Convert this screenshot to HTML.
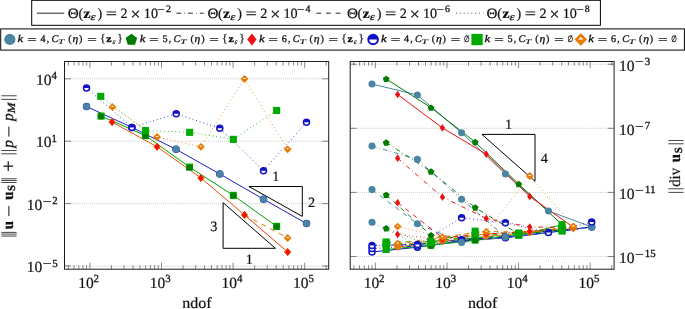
<!DOCTYPE html>
<html><head><meta charset="utf-8"><title>plot</title><style>html,body{margin:0;padding:0;background:#fff}svg{display:block}</style></head><body>
<svg width="685" height="309" viewBox="0 0 685 309" text-rendering="geometricPrecision">
<rect width="685" height="309" fill="#fff"/>
<line x1="64.5" y1="78.8" x2="328.7" y2="78.8" stroke="#a0a0a0" stroke-width="0.7" stroke-dasharray="0.75 1.22"/>
<line x1="64.5" y1="141.2" x2="328.7" y2="141.2" stroke="#a0a0a0" stroke-width="0.7" stroke-dasharray="0.75 1.22"/>
<line x1="64.5" y1="203.6" x2="328.7" y2="203.6" stroke="#a0a0a0" stroke-width="0.7" stroke-dasharray="0.75 1.22"/>
<line x1="64.5" y1="266.0" x2="328.7" y2="266.0" stroke="#a0a0a0" stroke-width="0.7" stroke-dasharray="0.75 1.22"/>
<line x1="64.5" y1="78.8" x2="71.0" y2="78.8" stroke="#6e6e6e" stroke-width="0.85"/>
<line x1="328.7" y1="78.8" x2="322.2" y2="78.8" stroke="#6e6e6e" stroke-width="0.85"/>
<line x1="64.5" y1="141.2" x2="71.0" y2="141.2" stroke="#6e6e6e" stroke-width="0.85"/>
<line x1="328.7" y1="141.2" x2="322.2" y2="141.2" stroke="#6e6e6e" stroke-width="0.85"/>
<line x1="64.5" y1="203.6" x2="71.0" y2="203.6" stroke="#6e6e6e" stroke-width="0.85"/>
<line x1="328.7" y1="203.6" x2="322.2" y2="203.6" stroke="#6e6e6e" stroke-width="0.85"/>
<line x1="64.5" y1="266.0" x2="71.0" y2="266.0" stroke="#6e6e6e" stroke-width="0.85"/>
<line x1="328.7" y1="266.0" x2="322.2" y2="266.0" stroke="#6e6e6e" stroke-width="0.85"/>
<line x1="68.35" y1="269.2" x2="68.35" y2="265.09999999999997" stroke="#5a5a5a" stroke-width="0.7"/>
<line x1="68.35" y1="61.5" x2="68.35" y2="65.6" stroke="#5a5a5a" stroke-width="0.7"/>
<line x1="74.02" y1="269.2" x2="74.02" y2="265.09999999999997" stroke="#5a5a5a" stroke-width="0.7"/>
<line x1="74.02" y1="61.5" x2="74.02" y2="65.6" stroke="#5a5a5a" stroke-width="0.7"/>
<line x1="78.81" y1="269.2" x2="78.81" y2="265.09999999999997" stroke="#5a5a5a" stroke-width="0.7"/>
<line x1="78.81" y1="61.5" x2="78.81" y2="65.6" stroke="#5a5a5a" stroke-width="0.7"/>
<line x1="82.96" y1="269.2" x2="82.96" y2="265.09999999999997" stroke="#5a5a5a" stroke-width="0.7"/>
<line x1="82.96" y1="61.5" x2="82.96" y2="65.6" stroke="#5a5a5a" stroke-width="0.7"/>
<line x1="86.62" y1="269.2" x2="86.62" y2="265.09999999999997" stroke="#5a5a5a" stroke-width="0.7"/>
<line x1="86.62" y1="61.5" x2="86.62" y2="65.6" stroke="#5a5a5a" stroke-width="0.7"/>
<line x1="89.90" y1="269.2" x2="89.90" y2="262.59999999999997" stroke="#5a5a5a" stroke-width="0.7"/>
<line x1="89.90" y1="61.5" x2="89.90" y2="68.1" stroke="#5a5a5a" stroke-width="0.7"/>
<line x1="111.45" y1="269.2" x2="111.45" y2="265.09999999999997" stroke="#5a5a5a" stroke-width="0.7"/>
<line x1="111.45" y1="61.5" x2="111.45" y2="65.6" stroke="#5a5a5a" stroke-width="0.7"/>
<line x1="124.06" y1="269.2" x2="124.06" y2="265.09999999999997" stroke="#5a5a5a" stroke-width="0.7"/>
<line x1="124.06" y1="61.5" x2="124.06" y2="65.6" stroke="#5a5a5a" stroke-width="0.7"/>
<line x1="133.01" y1="269.2" x2="133.01" y2="265.09999999999997" stroke="#5a5a5a" stroke-width="0.7"/>
<line x1="133.01" y1="61.5" x2="133.01" y2="65.6" stroke="#5a5a5a" stroke-width="0.7"/>
<line x1="139.95" y1="269.2" x2="139.95" y2="265.09999999999997" stroke="#5a5a5a" stroke-width="0.7"/>
<line x1="139.95" y1="61.5" x2="139.95" y2="65.6" stroke="#5a5a5a" stroke-width="0.7"/>
<line x1="145.62" y1="269.2" x2="145.62" y2="265.09999999999997" stroke="#5a5a5a" stroke-width="0.7"/>
<line x1="145.62" y1="61.5" x2="145.62" y2="65.6" stroke="#5a5a5a" stroke-width="0.7"/>
<line x1="150.41" y1="269.2" x2="150.41" y2="265.09999999999997" stroke="#5a5a5a" stroke-width="0.7"/>
<line x1="150.41" y1="61.5" x2="150.41" y2="65.6" stroke="#5a5a5a" stroke-width="0.7"/>
<line x1="154.56" y1="269.2" x2="154.56" y2="265.09999999999997" stroke="#5a5a5a" stroke-width="0.7"/>
<line x1="154.56" y1="61.5" x2="154.56" y2="65.6" stroke="#5a5a5a" stroke-width="0.7"/>
<line x1="158.22" y1="269.2" x2="158.22" y2="265.09999999999997" stroke="#5a5a5a" stroke-width="0.7"/>
<line x1="158.22" y1="61.5" x2="158.22" y2="65.6" stroke="#5a5a5a" stroke-width="0.7"/>
<line x1="161.50" y1="269.2" x2="161.50" y2="262.59999999999997" stroke="#5a5a5a" stroke-width="0.7"/>
<line x1="161.50" y1="61.5" x2="161.50" y2="68.1" stroke="#5a5a5a" stroke-width="0.7"/>
<line x1="183.05" y1="269.2" x2="183.05" y2="265.09999999999997" stroke="#5a5a5a" stroke-width="0.7"/>
<line x1="183.05" y1="61.5" x2="183.05" y2="65.6" stroke="#5a5a5a" stroke-width="0.7"/>
<line x1="195.66" y1="269.2" x2="195.66" y2="265.09999999999997" stroke="#5a5a5a" stroke-width="0.7"/>
<line x1="195.66" y1="61.5" x2="195.66" y2="65.6" stroke="#5a5a5a" stroke-width="0.7"/>
<line x1="204.61" y1="269.2" x2="204.61" y2="265.09999999999997" stroke="#5a5a5a" stroke-width="0.7"/>
<line x1="204.61" y1="61.5" x2="204.61" y2="65.6" stroke="#5a5a5a" stroke-width="0.7"/>
<line x1="211.55" y1="269.2" x2="211.55" y2="265.09999999999997" stroke="#5a5a5a" stroke-width="0.7"/>
<line x1="211.55" y1="61.5" x2="211.55" y2="65.6" stroke="#5a5a5a" stroke-width="0.7"/>
<line x1="217.22" y1="269.2" x2="217.22" y2="265.09999999999997" stroke="#5a5a5a" stroke-width="0.7"/>
<line x1="217.22" y1="61.5" x2="217.22" y2="65.6" stroke="#5a5a5a" stroke-width="0.7"/>
<line x1="222.01" y1="269.2" x2="222.01" y2="265.09999999999997" stroke="#5a5a5a" stroke-width="0.7"/>
<line x1="222.01" y1="61.5" x2="222.01" y2="65.6" stroke="#5a5a5a" stroke-width="0.7"/>
<line x1="226.16" y1="269.2" x2="226.16" y2="265.09999999999997" stroke="#5a5a5a" stroke-width="0.7"/>
<line x1="226.16" y1="61.5" x2="226.16" y2="65.6" stroke="#5a5a5a" stroke-width="0.7"/>
<line x1="229.82" y1="269.2" x2="229.82" y2="265.09999999999997" stroke="#5a5a5a" stroke-width="0.7"/>
<line x1="229.82" y1="61.5" x2="229.82" y2="65.6" stroke="#5a5a5a" stroke-width="0.7"/>
<line x1="233.10" y1="269.2" x2="233.10" y2="262.59999999999997" stroke="#5a5a5a" stroke-width="0.7"/>
<line x1="233.10" y1="61.5" x2="233.10" y2="68.1" stroke="#5a5a5a" stroke-width="0.7"/>
<line x1="254.65" y1="269.2" x2="254.65" y2="265.09999999999997" stroke="#5a5a5a" stroke-width="0.7"/>
<line x1="254.65" y1="61.5" x2="254.65" y2="65.6" stroke="#5a5a5a" stroke-width="0.7"/>
<line x1="267.26" y1="269.2" x2="267.26" y2="265.09999999999997" stroke="#5a5a5a" stroke-width="0.7"/>
<line x1="267.26" y1="61.5" x2="267.26" y2="65.6" stroke="#5a5a5a" stroke-width="0.7"/>
<line x1="276.21" y1="269.2" x2="276.21" y2="265.09999999999997" stroke="#5a5a5a" stroke-width="0.7"/>
<line x1="276.21" y1="61.5" x2="276.21" y2="65.6" stroke="#5a5a5a" stroke-width="0.7"/>
<line x1="283.15" y1="269.2" x2="283.15" y2="265.09999999999997" stroke="#5a5a5a" stroke-width="0.7"/>
<line x1="283.15" y1="61.5" x2="283.15" y2="65.6" stroke="#5a5a5a" stroke-width="0.7"/>
<line x1="288.82" y1="269.2" x2="288.82" y2="265.09999999999997" stroke="#5a5a5a" stroke-width="0.7"/>
<line x1="288.82" y1="61.5" x2="288.82" y2="65.6" stroke="#5a5a5a" stroke-width="0.7"/>
<line x1="293.61" y1="269.2" x2="293.61" y2="265.09999999999997" stroke="#5a5a5a" stroke-width="0.7"/>
<line x1="293.61" y1="61.5" x2="293.61" y2="65.6" stroke="#5a5a5a" stroke-width="0.7"/>
<line x1="297.76" y1="269.2" x2="297.76" y2="265.09999999999997" stroke="#5a5a5a" stroke-width="0.7"/>
<line x1="297.76" y1="61.5" x2="297.76" y2="65.6" stroke="#5a5a5a" stroke-width="0.7"/>
<line x1="301.42" y1="269.2" x2="301.42" y2="265.09999999999997" stroke="#5a5a5a" stroke-width="0.7"/>
<line x1="301.42" y1="61.5" x2="301.42" y2="65.6" stroke="#5a5a5a" stroke-width="0.7"/>
<line x1="304.70" y1="269.2" x2="304.70" y2="262.59999999999997" stroke="#5a5a5a" stroke-width="0.7"/>
<line x1="304.70" y1="61.5" x2="304.70" y2="68.1" stroke="#5a5a5a" stroke-width="0.7"/>
<line x1="326.25" y1="269.2" x2="326.25" y2="265.09999999999997" stroke="#5a5a5a" stroke-width="0.7"/>
<line x1="326.25" y1="61.5" x2="326.25" y2="65.6" stroke="#5a5a5a" stroke-width="0.7"/>
<line x1="350.2" y1="64.2" x2="614.1" y2="64.2" stroke="#a0a0a0" stroke-width="0.7" stroke-dasharray="0.75 1.22"/>
<line x1="350.2" y1="128.3" x2="614.1" y2="128.3" stroke="#a0a0a0" stroke-width="0.7" stroke-dasharray="0.75 1.22"/>
<line x1="350.2" y1="192.4" x2="614.1" y2="192.4" stroke="#a0a0a0" stroke-width="0.7" stroke-dasharray="0.75 1.22"/>
<line x1="350.2" y1="256.5" x2="614.1" y2="256.5" stroke="#a0a0a0" stroke-width="0.7" stroke-dasharray="0.75 1.22"/>
<line x1="350.2" y1="64.2" x2="356.7" y2="64.2" stroke="#6e6e6e" stroke-width="0.85"/>
<line x1="614.1" y1="64.2" x2="607.6" y2="64.2" stroke="#6e6e6e" stroke-width="0.85"/>
<line x1="350.2" y1="128.3" x2="356.7" y2="128.3" stroke="#6e6e6e" stroke-width="0.85"/>
<line x1="614.1" y1="128.3" x2="607.6" y2="128.3" stroke="#6e6e6e" stroke-width="0.85"/>
<line x1="350.2" y1="192.4" x2="356.7" y2="192.4" stroke="#6e6e6e" stroke-width="0.85"/>
<line x1="614.1" y1="192.4" x2="607.6" y2="192.4" stroke="#6e6e6e" stroke-width="0.85"/>
<line x1="350.2" y1="256.5" x2="356.7" y2="256.5" stroke="#6e6e6e" stroke-width="0.85"/>
<line x1="614.1" y1="256.5" x2="607.6" y2="256.5" stroke="#6e6e6e" stroke-width="0.85"/>
<line x1="353.85" y1="269.2" x2="353.85" y2="265.09999999999997" stroke="#5a5a5a" stroke-width="0.7"/>
<line x1="353.85" y1="61.5" x2="353.85" y2="65.6" stroke="#5a5a5a" stroke-width="0.7"/>
<line x1="359.52" y1="269.2" x2="359.52" y2="265.09999999999997" stroke="#5a5a5a" stroke-width="0.7"/>
<line x1="359.52" y1="61.5" x2="359.52" y2="65.6" stroke="#5a5a5a" stroke-width="0.7"/>
<line x1="364.31" y1="269.2" x2="364.31" y2="265.09999999999997" stroke="#5a5a5a" stroke-width="0.7"/>
<line x1="364.31" y1="61.5" x2="364.31" y2="65.6" stroke="#5a5a5a" stroke-width="0.7"/>
<line x1="368.46" y1="269.2" x2="368.46" y2="265.09999999999997" stroke="#5a5a5a" stroke-width="0.7"/>
<line x1="368.46" y1="61.5" x2="368.46" y2="65.6" stroke="#5a5a5a" stroke-width="0.7"/>
<line x1="372.12" y1="269.2" x2="372.12" y2="265.09999999999997" stroke="#5a5a5a" stroke-width="0.7"/>
<line x1="372.12" y1="61.5" x2="372.12" y2="65.6" stroke="#5a5a5a" stroke-width="0.7"/>
<line x1="375.40" y1="269.2" x2="375.40" y2="262.59999999999997" stroke="#5a5a5a" stroke-width="0.7"/>
<line x1="375.40" y1="61.5" x2="375.40" y2="68.1" stroke="#5a5a5a" stroke-width="0.7"/>
<line x1="396.95" y1="269.2" x2="396.95" y2="265.09999999999997" stroke="#5a5a5a" stroke-width="0.7"/>
<line x1="396.95" y1="61.5" x2="396.95" y2="65.6" stroke="#5a5a5a" stroke-width="0.7"/>
<line x1="409.56" y1="269.2" x2="409.56" y2="265.09999999999997" stroke="#5a5a5a" stroke-width="0.7"/>
<line x1="409.56" y1="61.5" x2="409.56" y2="65.6" stroke="#5a5a5a" stroke-width="0.7"/>
<line x1="418.51" y1="269.2" x2="418.51" y2="265.09999999999997" stroke="#5a5a5a" stroke-width="0.7"/>
<line x1="418.51" y1="61.5" x2="418.51" y2="65.6" stroke="#5a5a5a" stroke-width="0.7"/>
<line x1="425.45" y1="269.2" x2="425.45" y2="265.09999999999997" stroke="#5a5a5a" stroke-width="0.7"/>
<line x1="425.45" y1="61.5" x2="425.45" y2="65.6" stroke="#5a5a5a" stroke-width="0.7"/>
<line x1="431.12" y1="269.2" x2="431.12" y2="265.09999999999997" stroke="#5a5a5a" stroke-width="0.7"/>
<line x1="431.12" y1="61.5" x2="431.12" y2="65.6" stroke="#5a5a5a" stroke-width="0.7"/>
<line x1="435.91" y1="269.2" x2="435.91" y2="265.09999999999997" stroke="#5a5a5a" stroke-width="0.7"/>
<line x1="435.91" y1="61.5" x2="435.91" y2="65.6" stroke="#5a5a5a" stroke-width="0.7"/>
<line x1="440.06" y1="269.2" x2="440.06" y2="265.09999999999997" stroke="#5a5a5a" stroke-width="0.7"/>
<line x1="440.06" y1="61.5" x2="440.06" y2="65.6" stroke="#5a5a5a" stroke-width="0.7"/>
<line x1="443.72" y1="269.2" x2="443.72" y2="265.09999999999997" stroke="#5a5a5a" stroke-width="0.7"/>
<line x1="443.72" y1="61.5" x2="443.72" y2="65.6" stroke="#5a5a5a" stroke-width="0.7"/>
<line x1="447.00" y1="269.2" x2="447.00" y2="262.59999999999997" stroke="#5a5a5a" stroke-width="0.7"/>
<line x1="447.00" y1="61.5" x2="447.00" y2="68.1" stroke="#5a5a5a" stroke-width="0.7"/>
<line x1="468.55" y1="269.2" x2="468.55" y2="265.09999999999997" stroke="#5a5a5a" stroke-width="0.7"/>
<line x1="468.55" y1="61.5" x2="468.55" y2="65.6" stroke="#5a5a5a" stroke-width="0.7"/>
<line x1="481.16" y1="269.2" x2="481.16" y2="265.09999999999997" stroke="#5a5a5a" stroke-width="0.7"/>
<line x1="481.16" y1="61.5" x2="481.16" y2="65.6" stroke="#5a5a5a" stroke-width="0.7"/>
<line x1="490.11" y1="269.2" x2="490.11" y2="265.09999999999997" stroke="#5a5a5a" stroke-width="0.7"/>
<line x1="490.11" y1="61.5" x2="490.11" y2="65.6" stroke="#5a5a5a" stroke-width="0.7"/>
<line x1="497.05" y1="269.2" x2="497.05" y2="265.09999999999997" stroke="#5a5a5a" stroke-width="0.7"/>
<line x1="497.05" y1="61.5" x2="497.05" y2="65.6" stroke="#5a5a5a" stroke-width="0.7"/>
<line x1="502.72" y1="269.2" x2="502.72" y2="265.09999999999997" stroke="#5a5a5a" stroke-width="0.7"/>
<line x1="502.72" y1="61.5" x2="502.72" y2="65.6" stroke="#5a5a5a" stroke-width="0.7"/>
<line x1="507.51" y1="269.2" x2="507.51" y2="265.09999999999997" stroke="#5a5a5a" stroke-width="0.7"/>
<line x1="507.51" y1="61.5" x2="507.51" y2="65.6" stroke="#5a5a5a" stroke-width="0.7"/>
<line x1="511.66" y1="269.2" x2="511.66" y2="265.09999999999997" stroke="#5a5a5a" stroke-width="0.7"/>
<line x1="511.66" y1="61.5" x2="511.66" y2="65.6" stroke="#5a5a5a" stroke-width="0.7"/>
<line x1="515.32" y1="269.2" x2="515.32" y2="265.09999999999997" stroke="#5a5a5a" stroke-width="0.7"/>
<line x1="515.32" y1="61.5" x2="515.32" y2="65.6" stroke="#5a5a5a" stroke-width="0.7"/>
<line x1="518.60" y1="269.2" x2="518.60" y2="262.59999999999997" stroke="#5a5a5a" stroke-width="0.7"/>
<line x1="518.60" y1="61.5" x2="518.60" y2="68.1" stroke="#5a5a5a" stroke-width="0.7"/>
<line x1="540.15" y1="269.2" x2="540.15" y2="265.09999999999997" stroke="#5a5a5a" stroke-width="0.7"/>
<line x1="540.15" y1="61.5" x2="540.15" y2="65.6" stroke="#5a5a5a" stroke-width="0.7"/>
<line x1="552.76" y1="269.2" x2="552.76" y2="265.09999999999997" stroke="#5a5a5a" stroke-width="0.7"/>
<line x1="552.76" y1="61.5" x2="552.76" y2="65.6" stroke="#5a5a5a" stroke-width="0.7"/>
<line x1="561.71" y1="269.2" x2="561.71" y2="265.09999999999997" stroke="#5a5a5a" stroke-width="0.7"/>
<line x1="561.71" y1="61.5" x2="561.71" y2="65.6" stroke="#5a5a5a" stroke-width="0.7"/>
<line x1="568.65" y1="269.2" x2="568.65" y2="265.09999999999997" stroke="#5a5a5a" stroke-width="0.7"/>
<line x1="568.65" y1="61.5" x2="568.65" y2="65.6" stroke="#5a5a5a" stroke-width="0.7"/>
<line x1="574.32" y1="269.2" x2="574.32" y2="265.09999999999997" stroke="#5a5a5a" stroke-width="0.7"/>
<line x1="574.32" y1="61.5" x2="574.32" y2="65.6" stroke="#5a5a5a" stroke-width="0.7"/>
<line x1="579.11" y1="269.2" x2="579.11" y2="265.09999999999997" stroke="#5a5a5a" stroke-width="0.7"/>
<line x1="579.11" y1="61.5" x2="579.11" y2="65.6" stroke="#5a5a5a" stroke-width="0.7"/>
<line x1="583.26" y1="269.2" x2="583.26" y2="265.09999999999997" stroke="#5a5a5a" stroke-width="0.7"/>
<line x1="583.26" y1="61.5" x2="583.26" y2="65.6" stroke="#5a5a5a" stroke-width="0.7"/>
<line x1="586.92" y1="269.2" x2="586.92" y2="265.09999999999997" stroke="#5a5a5a" stroke-width="0.7"/>
<line x1="586.92" y1="61.5" x2="586.92" y2="65.6" stroke="#5a5a5a" stroke-width="0.7"/>
<line x1="590.20" y1="269.2" x2="590.20" y2="262.59999999999997" stroke="#5a5a5a" stroke-width="0.7"/>
<line x1="590.20" y1="61.5" x2="590.20" y2="68.1" stroke="#5a5a5a" stroke-width="0.7"/>
<line x1="611.75" y1="269.2" x2="611.75" y2="265.09999999999997" stroke="#5a5a5a" stroke-width="0.7"/>
<line x1="611.75" y1="61.5" x2="611.75" y2="65.6" stroke="#5a5a5a" stroke-width="0.7"/>
<defs><clipPath id="cl"><rect x="64.5" y="61.5" width="264.2" height="207.7"/></clipPath><clipPath id="cr"><rect x="350.2" y="61.5" width="263.90000000000003" height="207.7"/></clipPath></defs>
<g clip-path="url(#cl)">
<polygon points="248.9,186.5 302.3,186.5 302.3,216.4" fill="none" stroke="#000" stroke-width="1"/>
<polygon points="223.1,202.7 223.1,248.3 275.4,248.3" fill="none" stroke="#000" stroke-width="1"/>
<polyline points="86.5,106.5 131.9,127.4 176.0,149.3 219.8,174.0 263.5,199.2 306.5,223.6" fill="none" stroke="#1a20c8" stroke-width="1.0" />
<polyline points="101.0,116.0 145.5,135.6 189.6,167.2 233.3,195.4 276.7,226.4" fill="none" stroke="#00a200" stroke-width="1.0" />
<polyline points="112.1,122.1 157.1,146.8 200.9,177.9 244.5,214.9" fill="none" stroke="#e8540c" stroke-width="1.0" />
<polyline points="244.5,214.9 287.7,252.1" fill="none" stroke="#ee3a10" stroke-width="1.0" />
<polyline points="244.5,214.9 287.7,238.0" fill="none" stroke="#e87a00" stroke-width="1.0" stroke-dasharray="4.85 4.85" />
<polyline points="86.5,87.9 131.9,127.4 176.2,113.8 219.8,128.3 263.5,170.7 306.5,122.3" fill="none" stroke="#1212c8" stroke-width="0.95" stroke-dasharray="0.8 2.95" />
<polyline points="100.8,96.3 145.5,130.5 189.7,132.3 233.4,139.3 276.6,110.4" fill="none" stroke="#00aa00" stroke-width="0.95" stroke-dasharray="0.8 2.95" />
<polyline points="112.4,107.1 157.0,137.0 200.9,146.8 244.4,78.9 287.6,149.3" fill="none" stroke="#e87a00" stroke-width="0.95" stroke-dasharray="0.8 2.95" />
<circle cx="86.5" cy="106.5" r="3.0" fill="#fff" stroke="#1212c8" stroke-width="1.5"/><path d="M83.50,106.50 A3.0,3.0 0 0 1 89.50,106.50 Z" fill="#1212c8"/><circle cx="131.9" cy="127.4" r="3.0" fill="#fff" stroke="#1212c8" stroke-width="1.5"/><path d="M128.90,127.40 A3.0,3.0 0 0 1 134.90,127.40 Z" fill="#1212c8"/><circle cx="176.0" cy="149.3" r="3.0" fill="#fff" stroke="#1212c8" stroke-width="1.5"/><path d="M173.00,149.30 A3.0,3.0 0 0 1 179.00,149.30 Z" fill="#1212c8"/><circle cx="219.8" cy="174.0" r="3.0" fill="#fff" stroke="#1212c8" stroke-width="1.5"/><path d="M216.80,174.00 A3.0,3.0 0 0 1 222.80,174.00 Z" fill="#1212c8"/><circle cx="263.5" cy="199.2" r="3.0" fill="#fff" stroke="#1212c8" stroke-width="1.5"/><path d="M260.50,199.20 A3.0,3.0 0 0 1 266.50,199.20 Z" fill="#1212c8"/><circle cx="306.5" cy="223.6" r="3.0" fill="#fff" stroke="#1212c8" stroke-width="1.5"/><path d="M303.50,223.60 A3.0,3.0 0 0 1 309.50,223.60 Z" fill="#1212c8"/>
<rect x="97.5" y="112.5" width="7.1" height="7.1" fill="#00aa00"/><rect x="141.9" y="132.0" width="7.1" height="7.1" fill="#00aa00"/><rect x="186.0" y="163.6" width="7.1" height="7.1" fill="#00aa00"/><rect x="229.8" y="191.8" width="7.1" height="7.1" fill="#00aa00"/><rect x="273.1" y="222.8" width="7.1" height="7.1" fill="#00aa00"/>
<polygon points="112.1,119.3 114.8,122.1 112.1,124.8 109.3,122.1" fill="#fff" stroke="#e87a00" stroke-width="1.65"/><polygon points="114.8,122.1 112.1,124.8 109.3,122.1" fill="#e87a00"/><polygon points="157.1,144.1 159.8,146.8 157.1,149.6 154.3,146.8" fill="#fff" stroke="#e87a00" stroke-width="1.65"/><polygon points="159.8,146.8 157.1,149.6 154.3,146.8" fill="#e87a00"/><polygon points="200.9,175.2 203.7,177.9 200.9,180.7 198.2,177.9" fill="#fff" stroke="#e87a00" stroke-width="1.65"/><polygon points="203.7,177.9 200.9,180.7 198.2,177.9" fill="#e87a00"/><polygon points="244.5,212.2 247.2,214.9 244.5,217.7 241.8,214.9" fill="#fff" stroke="#e87a00" stroke-width="1.65"/><polygon points="247.2,214.9 244.5,217.7 241.8,214.9" fill="#e87a00"/><polygon points="287.7,235.2 290.4,238.0 287.7,240.8 284.9,238.0" fill="#fff" stroke="#e87a00" stroke-width="1.65"/><polygon points="290.4,238.0 287.7,240.8 284.9,238.0" fill="#e87a00"/>
<polygon points="287.7,249.3 290.4,252.1 287.7,254.8 284.9,252.1" fill="#fff" stroke="#e87a00" stroke-width="1.65"/><polygon points="290.4,252.1 287.7,254.8 284.9,252.1" fill="#e87a00"/>
<circle cx="86.5" cy="106.5" r="3.55" fill="#4a86a2"/><circle cx="131.9" cy="127.4" r="3.55" fill="#4a86a2"/><circle cx="176.0" cy="149.3" r="3.55" fill="#4a86a2"/><circle cx="219.8" cy="174.0" r="3.55" fill="#4a86a2"/><circle cx="263.5" cy="199.2" r="3.55" fill="#4a86a2"/><circle cx="306.5" cy="223.6" r="3.55" fill="#4a86a2"/>
<polygon points="101.00,112.75 104.38,115.20 103.09,119.17 98.91,119.17 97.62,115.20" fill="#007d00"/><polygon points="145.50,132.35 148.88,134.80 147.59,138.77 143.41,138.77 142.12,134.80" fill="#007d00"/><polygon points="189.60,163.95 192.98,166.40 191.69,170.37 187.51,170.37 186.22,166.40" fill="#007d00"/><polygon points="233.30,192.15 236.68,194.60 235.39,198.57 231.21,198.57 229.92,194.60" fill="#007d00"/><polygon points="276.70,223.15 280.08,225.60 278.79,229.57 274.61,229.57 273.32,225.60" fill="#007d00"/>
<polygon points="112.1,118.2 114.8,122.1 112.1,125.9 109.4,122.1" fill="#ee1010"/><polygon points="157.1,143.0 159.8,146.8 157.1,150.7 154.4,146.8" fill="#ee1010"/><polygon points="200.9,174.1 203.6,177.9 200.9,181.8 198.2,177.9" fill="#ee1010"/><polygon points="244.5,211.1 247.2,214.9 244.5,218.8 241.8,214.9" fill="#ee1010"/><polygon points="287.7,248.2 290.3,252.1 287.7,255.9 285.1,252.1" fill="#ee1010"/>
<circle cx="86.5" cy="87.9" r="3.0" fill="#fff" stroke="#1212c8" stroke-width="1.5"/><path d="M83.50,87.90 A3.0,3.0 0 0 1 89.50,87.90 Z" fill="#1212c8"/><circle cx="131.9" cy="127.4" r="3.0" fill="#fff" stroke="#1212c8" stroke-width="1.5"/><path d="M128.90,127.40 A3.0,3.0 0 0 1 134.90,127.40 Z" fill="#1212c8"/><circle cx="176.2" cy="113.8" r="3.0" fill="#fff" stroke="#1212c8" stroke-width="1.5"/><path d="M173.20,113.80 A3.0,3.0 0 0 1 179.20,113.80 Z" fill="#1212c8"/><circle cx="219.8" cy="128.3" r="3.0" fill="#fff" stroke="#1212c8" stroke-width="1.5"/><path d="M216.80,128.30 A3.0,3.0 0 0 1 222.80,128.30 Z" fill="#1212c8"/><circle cx="263.5" cy="170.7" r="3.0" fill="#fff" stroke="#1212c8" stroke-width="1.5"/><path d="M260.50,170.70 A3.0,3.0 0 0 1 266.50,170.70 Z" fill="#1212c8"/><circle cx="306.5" cy="122.3" r="3.0" fill="#fff" stroke="#1212c8" stroke-width="1.5"/><path d="M303.50,122.30 A3.0,3.0 0 0 1 309.50,122.30 Z" fill="#1212c8"/>
<rect x="97.2" y="92.8" width="7.1" height="7.1" fill="#00aa00"/><rect x="141.9" y="127.0" width="7.1" height="7.1" fill="#00aa00"/><rect x="186.1" y="128.8" width="7.1" height="7.1" fill="#00aa00"/><rect x="229.8" y="135.8" width="7.1" height="7.1" fill="#00aa00"/><rect x="273.1" y="106.9" width="7.1" height="7.1" fill="#00aa00"/>
<polygon points="112.4,104.3 115.2,107.1 112.4,109.8 109.7,107.1" fill="#fff" stroke="#e87a00" stroke-width="1.65"/><polygon points="115.2,107.1 112.4,109.8 109.7,107.1" fill="#e87a00"/><polygon points="157.0,134.2 159.8,137.0 157.0,139.8 154.2,137.0" fill="#fff" stroke="#e87a00" stroke-width="1.65"/><polygon points="159.8,137.0 157.0,139.8 154.2,137.0" fill="#e87a00"/><polygon points="200.9,144.1 203.7,146.8 200.9,149.6 198.2,146.8" fill="#fff" stroke="#e87a00" stroke-width="1.65"/><polygon points="203.7,146.8 200.9,149.6 198.2,146.8" fill="#e87a00"/><polygon points="244.4,76.2 247.2,78.9 244.4,81.7 241.7,78.9" fill="#fff" stroke="#e87a00" stroke-width="1.65"/><polygon points="247.2,78.9 244.4,81.7 241.7,78.9" fill="#e87a00"/><polygon points="287.6,146.6 290.4,149.3 287.6,152.1 284.9,149.3" fill="#fff" stroke="#e87a00" stroke-width="1.65"/><polygon points="290.4,149.3 287.6,152.1 284.9,149.3" fill="#e87a00"/>
</g>
<rect x="64.5" y="61.5" width="264.2" height="207.7" fill="none" stroke="#1c1c1c" stroke-width="1"/>
<g clip-path="url(#cr)">
<polygon points="481.9,134.4 535,134.4 535,181.3" fill="none" stroke="#000" stroke-width="1"/>
<polyline points="372.0,84.0 417.4,95.0 461.6,132.8 505.4,174.0 548.5,211.0 591.7,226.9" fill="none" stroke="#4a86a2" stroke-width="1.0" />
<polyline points="386.2,78.9 431.0,107.7 475.2,142.1 518.7,184.0 562.0,224.7" fill="none" stroke="#007d00" stroke-width="1.0" />
<polyline points="397.6,94.5 442.4,127.9 486.3,154.2 529.7,196.4 573.3,227.2" fill="none" stroke="#ee1010" stroke-width="1.0" />
<polyline points="372.0,252.0 417.4,247.2 461.6,241.0 505.4,237.8 548.5,232.6 591.7,226.9" fill="none" stroke="#1212c8" stroke-width="1.0" />
<polyline points="386.2,249.5 431.0,245.2 475.2,240.2 518.7,235.4 562.0,224.7" fill="none" stroke="#00aa00" stroke-width="1.0" />
<polyline points="397.6,247.2 442.4,241.2 486.3,236.5 529.7,232.6 573.3,228.5" fill="none" stroke="#e87a00" stroke-width="1.0" />
<polyline points="372.0,146.0 417.4,159.4 461.6,199.2 505.4,236.9 548.5,232.3 591.7,226.9" fill="none" stroke="#4a86a2" stroke-width="0.95" stroke-dasharray="4.7 3.0 0.8 3.0" />
<polyline points="386.2,142.5 431.0,171.6 475.2,207.6 518.7,234.0 562.0,229.5" fill="none" stroke="#007d00" stroke-width="0.95" stroke-dasharray="4.7 3.0 0.8 3.0" />
<polyline points="397.6,158.2 442.4,197.1 486.3,218.4 529.7,227.0 573.3,227.2" fill="none" stroke="#ee1010" stroke-width="0.95" stroke-dasharray="4.7 3.0 0.8 3.0" />
<polyline points="372.0,248.5 417.4,246.0 461.6,240.3 505.4,237.3 548.5,232.6 591.7,226.9" fill="none" stroke="#1212c8" stroke-width="0.95" stroke-dasharray="4.7 3.0 0.8 3.0" />
<polyline points="386.2,246.0 431.0,243.5 475.2,238.0 518.7,234.4 562.0,230.0" fill="none" stroke="#00aa00" stroke-width="0.95" stroke-dasharray="4.7 3.0 0.8 3.0" />
<polyline points="397.6,245.0 442.4,239.5 486.3,234.0 529.7,232.2 573.3,227.5" fill="none" stroke="#e87a00" stroke-width="0.95" stroke-dasharray="4.7 3.0 0.8 3.0" />
<polyline points="372.0,189.6 417.4,223.7 461.6,242.4 505.4,236.9 548.5,232.3 591.7,226.9" fill="none" stroke="#4a86a2" stroke-width="0.95" stroke-dasharray="4.85 4.85" />
<polyline points="386.2,194.9 431.0,235.3 475.2,239.9 518.7,234.5 562.0,230.0" fill="none" stroke="#007d00" stroke-width="0.95" stroke-dasharray="4.85 4.85" />
<polyline points="397.6,202.7 442.4,237.5 486.3,234.0 529.7,231.5 573.3,227.2" fill="none" stroke="#ee1010" stroke-width="0.95" stroke-dasharray="4.85 4.85" />
<polyline points="372.0,245.4 417.4,244.6 461.6,239.8 505.4,236.9 548.5,232.4 591.7,226.9" fill="none" stroke="#1212c8" stroke-width="0.95" stroke-dasharray="4.85 4.85" />
<polyline points="386.2,242.0 431.0,241.7 475.2,236.0 518.7,233.1 562.0,228.5" fill="none" stroke="#00aa00" stroke-width="0.95" stroke-dasharray="4.85 4.85" />
<polyline points="397.6,243.6 442.4,236.9 486.3,231.5 529.7,232.0 573.3,227.0" fill="none" stroke="#e87a00" stroke-width="0.95" stroke-dasharray="4.85 4.85" />
<polyline points="372.0,222.2 417.4,245.0 461.6,242.4 505.4,236.9 548.5,232.3 591.7,226.9" fill="none" stroke="#4a86a2" stroke-width="0.95" stroke-dasharray="0.8 2.95" />
<polyline points="386.2,228.3 431.0,245.5 475.2,239.9 518.7,234.5 562.0,230.0" fill="none" stroke="#007d00" stroke-width="0.95" stroke-dasharray="0.8 2.95" />
<polyline points="397.6,234.4 442.4,239.5 486.3,234.0 529.7,231.5 573.3,227.2" fill="none" stroke="#ee1010" stroke-width="0.95" stroke-dasharray="0.8 2.95" />
<polyline points="372.0,245.4 417.4,244.6 461.6,217.8 505.4,222.8 548.5,232.6 591.7,222.0" fill="none" stroke="#1212c8" stroke-width="0.95" stroke-dasharray="0.8 2.95" />
<polyline points="386.2,243.5 431.0,242.5 475.2,231.2 518.7,233.1 562.0,231.1" fill="none" stroke="#00aa00" stroke-width="0.95" stroke-dasharray="0.8 2.95" />
<polyline points="397.6,226.5 442.4,237.2 486.3,231.7 529.7,175.9 573.3,226.4" fill="none" stroke="#e87a00" stroke-width="0.95" stroke-dasharray="0.8 2.95" />
<circle cx="372.0" cy="84.0" r="3.55" fill="#4a86a2"/><circle cx="417.4" cy="95.0" r="3.55" fill="#4a86a2"/><circle cx="461.6" cy="132.8" r="3.55" fill="#4a86a2"/><circle cx="505.4" cy="174.0" r="3.55" fill="#4a86a2"/><circle cx="548.5" cy="211.0" r="3.55" fill="#4a86a2"/>
<polygon points="386.20,75.65 389.58,78.10 388.29,82.07 384.11,82.07 382.82,78.10" fill="#007d00"/><polygon points="431.00,104.45 434.38,106.90 433.09,110.87 428.91,110.87 427.62,106.90" fill="#007d00"/><polygon points="475.20,138.85 478.58,141.30 477.29,145.27 473.11,145.27 471.82,141.30" fill="#007d00"/><polygon points="518.70,180.75 522.08,183.20 520.79,187.17 516.61,187.17 515.32,183.20" fill="#007d00"/><polygon points="562.00,221.45 565.38,223.90 564.09,227.87 559.91,227.87 558.62,223.90" fill="#007d00"/>
<polygon points="397.6,90.7 400.2,94.5 397.6,98.3 395.0,94.5" fill="#ee1010"/><polygon points="442.4,124.1 445.0,127.9 442.4,131.8 439.8,127.9" fill="#ee1010"/><polygon points="486.3,150.3 488.9,154.2 486.3,158.0 483.7,154.2" fill="#ee1010"/><polygon points="529.7,192.6 532.4,196.4 529.7,200.2 527.1,196.4" fill="#ee1010"/>
<circle cx="372.0" cy="252.0" r="3.0" fill="#fff" stroke="#1212c8" stroke-width="1.5"/><path d="M369.00,252.00 A3.0,3.0 0 0 1 375.00,252.00 Z" fill="#1212c8"/><circle cx="417.4" cy="247.2" r="3.0" fill="#fff" stroke="#1212c8" stroke-width="1.5"/><path d="M414.40,247.20 A3.0,3.0 0 0 1 420.40,247.20 Z" fill="#1212c8"/><circle cx="461.6" cy="241.0" r="3.0" fill="#fff" stroke="#1212c8" stroke-width="1.5"/><path d="M458.60,241.00 A3.0,3.0 0 0 1 464.60,241.00 Z" fill="#1212c8"/><circle cx="505.4" cy="237.8" r="3.0" fill="#fff" stroke="#1212c8" stroke-width="1.5"/><path d="M502.40,237.80 A3.0,3.0 0 0 1 508.40,237.80 Z" fill="#1212c8"/>
<rect x="382.6" y="245.9" width="7.1" height="7.1" fill="#00aa00"/><rect x="427.4" y="241.6" width="7.1" height="7.1" fill="#00aa00"/><rect x="471.6" y="236.6" width="7.1" height="7.1" fill="#00aa00"/><rect x="515.2" y="231.8" width="7.1" height="7.1" fill="#00aa00"/><rect x="558.5" y="221.1" width="7.1" height="7.1" fill="#00aa00"/>
<polygon points="397.6,244.4 400.4,247.2 397.6,249.9 394.9,247.2" fill="#fff" stroke="#e87a00" stroke-width="1.65"/><polygon points="400.4,247.2 397.6,249.9 394.9,247.2" fill="#e87a00"/><polygon points="442.4,238.4 445.1,241.2 442.4,243.9 439.6,241.2" fill="#fff" stroke="#e87a00" stroke-width="1.65"/><polygon points="445.1,241.2 442.4,243.9 439.6,241.2" fill="#e87a00"/><polygon points="486.3,233.8 489.1,236.5 486.3,239.2 483.6,236.5" fill="#fff" stroke="#e87a00" stroke-width="1.65"/><polygon points="489.1,236.5 486.3,239.2 483.6,236.5" fill="#e87a00"/><polygon points="529.7,229.8 532.5,232.6 529.7,235.3 527.0,232.6" fill="#fff" stroke="#e87a00" stroke-width="1.65"/><polygon points="532.5,232.6 529.7,235.3 527.0,232.6" fill="#e87a00"/><polygon points="573.3,225.8 576.0,228.5 573.3,231.2 570.5,228.5" fill="#fff" stroke="#e87a00" stroke-width="1.65"/><polygon points="576.0,228.5 573.3,231.2 570.5,228.5" fill="#e87a00"/>
<circle cx="372.0" cy="146.0" r="3.55" fill="#4a86a2"/><circle cx="417.4" cy="159.4" r="3.55" fill="#4a86a2"/><circle cx="461.6" cy="199.2" r="3.55" fill="#4a86a2"/>
<polygon points="386.20,139.25 389.58,141.70 388.29,145.67 384.11,145.67 382.82,141.70" fill="#007d00"/><polygon points="431.00,168.35 434.38,170.80 433.09,174.77 428.91,174.77 427.62,170.80" fill="#007d00"/><polygon points="475.20,204.35 478.58,206.80 477.29,210.77 473.11,210.77 471.82,206.80" fill="#007d00"/><polygon points="518.70,230.75 522.08,233.20 520.79,237.17 516.61,237.17 515.32,233.20" fill="#007d00"/><polygon points="562.00,226.25 565.38,228.70 564.09,232.67 559.91,232.67 558.62,228.70" fill="#007d00"/>
<polygon points="397.6,154.3 400.2,158.2 397.6,162.0 395.0,158.2" fill="#ee1010"/><polygon points="442.4,193.2 445.0,197.1 442.4,200.9 439.8,197.1" fill="#ee1010"/><polygon points="486.3,214.6 488.9,218.4 486.3,222.2 483.7,218.4" fill="#ee1010"/><polygon points="529.7,223.2 532.4,227.0 529.7,230.8 527.1,227.0" fill="#ee1010"/>
<circle cx="372.0" cy="248.5" r="3.0" fill="#fff" stroke="#1212c8" stroke-width="1.5"/><path d="M369.00,248.50 A3.0,3.0 0 0 1 375.00,248.50 Z" fill="#1212c8"/><circle cx="417.4" cy="246.0" r="3.0" fill="#fff" stroke="#1212c8" stroke-width="1.5"/><path d="M414.40,246.00 A3.0,3.0 0 0 1 420.40,246.00 Z" fill="#1212c8"/><circle cx="461.6" cy="240.3" r="3.0" fill="#fff" stroke="#1212c8" stroke-width="1.5"/><path d="M458.60,240.30 A3.0,3.0 0 0 1 464.60,240.30 Z" fill="#1212c8"/><circle cx="505.4" cy="237.3" r="3.0" fill="#fff" stroke="#1212c8" stroke-width="1.5"/><path d="M502.40,237.30 A3.0,3.0 0 0 1 508.40,237.30 Z" fill="#1212c8"/>
<rect x="382.6" y="242.4" width="7.1" height="7.1" fill="#00aa00"/><rect x="427.4" y="239.9" width="7.1" height="7.1" fill="#00aa00"/><rect x="471.6" y="234.4" width="7.1" height="7.1" fill="#00aa00"/><rect x="515.2" y="230.8" width="7.1" height="7.1" fill="#00aa00"/><rect x="558.5" y="226.4" width="7.1" height="7.1" fill="#00aa00"/>
<polygon points="397.6,242.2 400.4,245.0 397.6,247.8 394.9,245.0" fill="#fff" stroke="#e87a00" stroke-width="1.65"/><polygon points="400.4,245.0 397.6,247.8 394.9,245.0" fill="#e87a00"/><polygon points="442.4,236.8 445.1,239.5 442.4,242.2 439.6,239.5" fill="#fff" stroke="#e87a00" stroke-width="1.65"/><polygon points="445.1,239.5 442.4,242.2 439.6,239.5" fill="#e87a00"/><polygon points="486.3,231.2 489.1,234.0 486.3,236.8 483.6,234.0" fill="#fff" stroke="#e87a00" stroke-width="1.65"/><polygon points="489.1,234.0 486.3,236.8 483.6,234.0" fill="#e87a00"/><polygon points="573.3,224.8 576.0,227.5 573.3,230.2 570.5,227.5" fill="#fff" stroke="#e87a00" stroke-width="1.65"/><polygon points="576.0,227.5 573.3,230.2 570.5,227.5" fill="#e87a00"/>
<circle cx="372.0" cy="189.6" r="3.55" fill="#4a86a2"/><circle cx="417.4" cy="223.7" r="3.55" fill="#4a86a2"/>
<polygon points="386.20,191.65 389.58,194.10 388.29,198.07 384.11,198.07 382.82,194.10" fill="#007d00"/><polygon points="431.00,232.05 434.38,234.50 433.09,238.47 428.91,238.47 427.62,234.50" fill="#007d00"/>
<polygon points="397.6,198.8 400.2,202.7 397.6,206.5 395.0,202.7" fill="#ee1010"/><polygon points="442.4,233.7 445.0,237.5 442.4,241.3 439.8,237.5" fill="#ee1010"/>
<circle cx="461.6" cy="239.8" r="3.0" fill="#fff" stroke="#1212c8" stroke-width="1.5"/><path d="M458.60,239.80 A3.0,3.0 0 0 1 464.60,239.80 Z" fill="#1212c8"/><circle cx="505.4" cy="236.9" r="3.0" fill="#fff" stroke="#1212c8" stroke-width="1.5"/><path d="M502.40,236.90 A3.0,3.0 0 0 1 508.40,236.90 Z" fill="#1212c8"/><circle cx="591.7" cy="226.9" r="3.0" fill="#fff" stroke="#1212c8" stroke-width="1.5"/><path d="M588.70,226.90 A3.0,3.0 0 0 1 594.70,226.90 Z" fill="#1212c8"/>
<rect x="382.6" y="238.4" width="7.1" height="7.1" fill="#00aa00"/><rect x="427.4" y="238.1" width="7.1" height="7.1" fill="#00aa00"/><rect x="471.6" y="232.4" width="7.1" height="7.1" fill="#00aa00"/><rect x="558.5" y="224.9" width="7.1" height="7.1" fill="#00aa00"/>
<polygon points="397.6,240.8 400.4,243.6 397.6,246.3 394.9,243.6" fill="#fff" stroke="#e87a00" stroke-width="1.65"/><polygon points="400.4,243.6 397.6,246.3 394.9,243.6" fill="#e87a00"/><polygon points="529.7,229.2 532.5,232.0 529.7,234.8 527.0,232.0" fill="#fff" stroke="#e87a00" stroke-width="1.65"/><polygon points="532.5,232.0 529.7,234.8 527.0,232.0" fill="#e87a00"/><polygon points="573.3,224.2 576.0,227.0 573.3,229.8 570.5,227.0" fill="#fff" stroke="#e87a00" stroke-width="1.65"/><polygon points="576.0,227.0 573.3,229.8 570.5,227.0" fill="#e87a00"/>
<circle cx="372.0" cy="222.2" r="3.55" fill="#4a86a2"/><circle cx="417.4" cy="245.0" r="3.55" fill="#4a86a2"/><circle cx="461.6" cy="242.4" r="3.55" fill="#4a86a2"/><circle cx="505.4" cy="236.9" r="3.55" fill="#4a86a2"/><circle cx="548.5" cy="232.3" r="3.55" fill="#4a86a2"/><circle cx="591.7" cy="226.9" r="3.55" fill="#4a86a2"/>
<polygon points="386.20,225.05 389.58,227.50 388.29,231.47 384.11,231.47 382.82,227.50" fill="#007d00"/><polygon points="431.00,242.25 434.38,244.70 433.09,248.67 428.91,248.67 427.62,244.70" fill="#007d00"/><polygon points="475.20,236.65 478.58,239.10 477.29,243.07 473.11,243.07 471.82,239.10" fill="#007d00"/><polygon points="518.70,231.25 522.08,233.70 520.79,237.67 516.61,237.67 515.32,233.70" fill="#007d00"/><polygon points="562.00,226.75 565.38,229.20 564.09,233.17 559.91,233.17 558.62,229.20" fill="#007d00"/>
<polygon points="397.6,230.6 400.2,234.4 397.6,238.2 395.0,234.4" fill="#ee1010"/><polygon points="442.4,235.7 445.0,239.5 442.4,243.3 439.8,239.5" fill="#ee1010"/><polygon points="486.3,230.2 488.9,234.0 486.3,237.8 483.7,234.0" fill="#ee1010"/><polygon points="529.7,227.7 532.4,231.5 529.7,235.3 527.1,231.5" fill="#ee1010"/><polygon points="573.3,223.3 575.9,227.2 573.3,231.0 570.6,227.2" fill="#ee1010"/>
<circle cx="372.0" cy="245.4" r="3.0" fill="#fff" stroke="#1212c8" stroke-width="1.5"/><path d="M369.00,245.40 A3.0,3.0 0 0 1 375.00,245.40 Z" fill="#1212c8"/><circle cx="417.4" cy="244.6" r="3.0" fill="#fff" stroke="#1212c8" stroke-width="1.5"/><path d="M414.40,244.60 A3.0,3.0 0 0 1 420.40,244.60 Z" fill="#1212c8"/><circle cx="461.6" cy="217.8" r="3.0" fill="#fff" stroke="#1212c8" stroke-width="1.5"/><path d="M458.60,217.80 A3.0,3.0 0 0 1 464.60,217.80 Z" fill="#1212c8"/><circle cx="505.4" cy="222.8" r="3.0" fill="#fff" stroke="#1212c8" stroke-width="1.5"/><path d="M502.40,222.80 A3.0,3.0 0 0 1 508.40,222.80 Z" fill="#1212c8"/><circle cx="548.5" cy="232.6" r="3.0" fill="#fff" stroke="#1212c8" stroke-width="1.5"/><path d="M545.50,232.60 A3.0,3.0 0 0 1 551.50,232.60 Z" fill="#1212c8"/><circle cx="591.7" cy="222.0" r="3.0" fill="#fff" stroke="#1212c8" stroke-width="1.5"/><path d="M588.70,222.00 A3.0,3.0 0 0 1 594.70,222.00 Z" fill="#1212c8"/>
<rect x="382.6" y="239.9" width="7.1" height="7.1" fill="#00aa00"/><rect x="427.4" y="238.9" width="7.1" height="7.1" fill="#00aa00"/><rect x="471.6" y="227.6" width="7.1" height="7.1" fill="#00aa00"/><rect x="515.2" y="229.5" width="7.1" height="7.1" fill="#00aa00"/><rect x="558.5" y="227.5" width="7.1" height="7.1" fill="#00aa00"/>
<polygon points="397.6,223.8 400.4,226.5 397.6,229.2 394.9,226.5" fill="#fff" stroke="#e87a00" stroke-width="1.65"/><polygon points="400.4,226.5 397.6,229.2 394.9,226.5" fill="#e87a00"/><polygon points="442.4,234.4 445.1,237.2 442.4,239.9 439.6,237.2" fill="#fff" stroke="#e87a00" stroke-width="1.65"/><polygon points="445.1,237.2 442.4,239.9 439.6,237.2" fill="#e87a00"/><polygon points="486.3,228.9 489.1,231.7 486.3,234.4 483.6,231.7" fill="#fff" stroke="#e87a00" stroke-width="1.65"/><polygon points="489.1,231.7 486.3,234.4 483.6,231.7" fill="#e87a00"/><polygon points="529.7,173.2 532.5,175.9 529.7,178.7 527.0,175.9" fill="#fff" stroke="#e87a00" stroke-width="1.65"/><polygon points="532.5,175.9 529.7,178.7 527.0,175.9" fill="#e87a00"/><polygon points="573.3,223.7 576.0,226.4 573.3,229.2 570.5,226.4" fill="#fff" stroke="#e87a00" stroke-width="1.65"/><polygon points="576.0,226.4 573.3,229.2 570.5,226.4" fill="#e87a00"/>
</g>
<rect x="350.2" y="61.5" width="263.90000000000003" height="207.7" fill="none" stroke="#1c1c1c" stroke-width="1"/>
<text x="78.14" y="287.60" font-family="Liberation Serif, serif" font-size="15.5" fill="#111" stroke="#111" stroke-width="0.2">10</text><text x="93.60" y="281.90" font-family="Liberation Serif, serif" font-size="10.9" fill="#111" stroke="#111" stroke-width="0.3">2</text>
<text x="149.84" y="287.60" font-family="Liberation Serif, serif" font-size="15.5" fill="#111" stroke="#111" stroke-width="0.2">10</text><text x="165.30" y="281.90" font-family="Liberation Serif, serif" font-size="10.9" fill="#111" stroke="#111" stroke-width="0.3">3</text>
<text x="221.44" y="287.60" font-family="Liberation Serif, serif" font-size="15.5" fill="#111" stroke="#111" stroke-width="0.2">10</text><text x="236.90" y="281.90" font-family="Liberation Serif, serif" font-size="10.9" fill="#111" stroke="#111" stroke-width="0.3">4</text>
<text x="293.04" y="287.60" font-family="Liberation Serif, serif" font-size="15.5" fill="#111" stroke="#111" stroke-width="0.2">10</text><text x="308.50" y="281.90" font-family="Liberation Serif, serif" font-size="10.9" fill="#111" stroke="#111" stroke-width="0.3">5</text>
<text x="363.64" y="287.60" font-family="Liberation Serif, serif" font-size="15.5" fill="#111" stroke="#111" stroke-width="0.2">10</text><text x="379.10" y="281.90" font-family="Liberation Serif, serif" font-size="10.9" fill="#111" stroke="#111" stroke-width="0.3">2</text>
<text x="435.24" y="287.60" font-family="Liberation Serif, serif" font-size="15.5" fill="#111" stroke="#111" stroke-width="0.2">10</text><text x="450.70" y="281.90" font-family="Liberation Serif, serif" font-size="10.9" fill="#111" stroke="#111" stroke-width="0.3">3</text>
<text x="506.84" y="287.60" font-family="Liberation Serif, serif" font-size="15.5" fill="#111" stroke="#111" stroke-width="0.2">10</text><text x="522.30" y="281.90" font-family="Liberation Serif, serif" font-size="10.9" fill="#111" stroke="#111" stroke-width="0.3">4</text>
<text x="578.44" y="287.60" font-family="Liberation Serif, serif" font-size="15.5" fill="#111" stroke="#111" stroke-width="0.2">10</text><text x="593.90" y="281.90" font-family="Liberation Serif, serif" font-size="10.9" fill="#111" stroke="#111" stroke-width="0.3">5</text>
<text x="35.94" y="85.00" font-family="Liberation Serif, serif" font-size="15.5" fill="#111" stroke="#111" stroke-width="0.2">10</text><text x="51.40" y="79.30" font-family="Liberation Serif, serif" font-size="10.9" fill="#111" stroke="#111" stroke-width="0.3">4</text>
<text x="35.94" y="147.40" font-family="Liberation Serif, serif" font-size="15.5" fill="#111" stroke="#111" stroke-width="0.2">10</text><text x="51.40" y="141.70" font-family="Liberation Serif, serif" font-size="10.9" fill="#111" stroke="#111" stroke-width="0.3">1</text>
<text x="26.64" y="209.80" font-family="Liberation Serif, serif" font-size="15.5" fill="#111" stroke="#111" stroke-width="0.2">10</text><text x="42.73" y="204.78" font-family="Liberation Serif, serif" font-size="10.9" fill="#111" stroke="#111" stroke-width="0.3" textLength="8.73" lengthAdjust="spacingAndGlyphs">−</text><text x="52.30" y="204.10" font-family="Liberation Serif, serif" font-size="10.9" fill="#111" stroke="#111" stroke-width="0.3" textLength="5.45" lengthAdjust="spacingAndGlyphs">2</text>
<text x="26.64" y="272.20" font-family="Liberation Serif, serif" font-size="15.5" fill="#111" stroke="#111" stroke-width="0.2">10</text><text x="42.73" y="267.18" font-family="Liberation Serif, serif" font-size="10.9" fill="#111" stroke="#111" stroke-width="0.3" textLength="8.73" lengthAdjust="spacingAndGlyphs">−</text><text x="52.30" y="266.50" font-family="Liberation Serif, serif" font-size="10.9" fill="#111" stroke="#111" stroke-width="0.3" textLength="5.45" lengthAdjust="spacingAndGlyphs">5</text>
<text x="619.04" y="70.50" font-family="Liberation Serif, serif" font-size="15.5" fill="#111" stroke="#111" stroke-width="0.2">10</text><text x="635.13" y="65.48" font-family="Liberation Serif, serif" font-size="10.9" fill="#111" stroke="#111" stroke-width="0.3" textLength="8.73" lengthAdjust="spacingAndGlyphs">−</text><text x="644.70" y="64.80" font-family="Liberation Serif, serif" font-size="10.9" fill="#111" stroke="#111" stroke-width="0.3" textLength="5.45" lengthAdjust="spacingAndGlyphs">3</text>
<text x="619.04" y="134.60" font-family="Liberation Serif, serif" font-size="15.5" fill="#111" stroke="#111" stroke-width="0.2">10</text><text x="635.13" y="129.58" font-family="Liberation Serif, serif" font-size="10.9" fill="#111" stroke="#111" stroke-width="0.3" textLength="8.73" lengthAdjust="spacingAndGlyphs">−</text><text x="644.70" y="128.90" font-family="Liberation Serif, serif" font-size="10.9" fill="#111" stroke="#111" stroke-width="0.3" textLength="5.45" lengthAdjust="spacingAndGlyphs">7</text>
<text x="619.04" y="198.70" font-family="Liberation Serif, serif" font-size="15.5" fill="#111" stroke="#111" stroke-width="0.2">10</text><text x="635.13" y="193.68" font-family="Liberation Serif, serif" font-size="10.9" fill="#111" stroke="#111" stroke-width="0.3" textLength="8.73" lengthAdjust="spacingAndGlyphs">−</text><text x="644.70" y="193.00" font-family="Liberation Serif, serif" font-size="10.9" fill="#111" stroke="#111" stroke-width="0.3" textLength="10.90" lengthAdjust="spacingAndGlyphs">11</text>
<text x="619.04" y="262.80" font-family="Liberation Serif, serif" font-size="15.5" fill="#111" stroke="#111" stroke-width="0.2">10</text><text x="635.13" y="257.78" font-family="Liberation Serif, serif" font-size="10.9" fill="#111" stroke="#111" stroke-width="0.3" textLength="8.73" lengthAdjust="spacingAndGlyphs">−</text><text x="644.70" y="257.10" font-family="Liberation Serif, serif" font-size="10.9" fill="#111" stroke="#111" stroke-width="0.3" textLength="10.90" lengthAdjust="spacingAndGlyphs">15</text>
<text x="197.00" y="307.70" font-family="Liberation Serif, serif" font-size="15.5" fill="#111" stroke="#111" stroke-width="0.2" text-anchor="middle" textLength="29.40" lengthAdjust="spacingAndGlyphs">ndof</text>
<text x="482.60" y="307.70" font-family="Liberation Serif, serif" font-size="15.5" fill="#111" stroke="#111" stroke-width="0.2" text-anchor="middle" textLength="29.40" lengthAdjust="spacingAndGlyphs">ndof</text>
<text x="275.90" y="180.60" font-family="Liberation Serif, serif" font-size="14.2" fill="#111" stroke="#111" stroke-width="0.2" text-anchor="middle">1</text>
<text x="311.50" y="206.60" font-family="Liberation Serif, serif" font-size="14.2" fill="#111" stroke="#111" stroke-width="0.2" text-anchor="middle">2</text>
<text x="213.80" y="230.50" font-family="Liberation Serif, serif" font-size="14.2" fill="#111" stroke="#111" stroke-width="0.2" text-anchor="middle">3</text>
<text x="249.30" y="263.70" font-family="Liberation Serif, serif" font-size="14.2" fill="#111" stroke="#111" stroke-width="0.2" text-anchor="middle">1</text>
<text x="508.60" y="128.80" font-family="Liberation Serif, serif" font-size="14.2" fill="#111" stroke="#111" stroke-width="0.2" text-anchor="middle">1</text>
<text x="544.30" y="162.60" font-family="Liberation Serif, serif" font-size="14.2" fill="#111" stroke="#111" stroke-width="0.2" text-anchor="middle">4</text>
<g transform="translate(12.5,237.1) rotate(-90)">
<text x="-0.68" y="0.00" font-family="Liberation Serif, serif" font-size="16.8" fill="#222" stroke="#222" stroke-width="0">|</text><text x="1.27" y="0.00" font-family="Liberation Serif, serif" font-size="16.8" fill="#222" stroke="#222" stroke-width="0">|</text><text x="3.22" y="0.00" font-family="Liberation Serif, serif" font-size="16.8" fill="#222" stroke="#222" stroke-width="0">|</text>
<text x="7.60" y="0.00" font-family="Liberation Serif, serif" font-size="15.5" fill="#111" stroke="#111" stroke-width="0.2" font-weight="bold">u</text>
<text x="20.29" y="1.92" font-family="Liberation Serif, serif" font-size="15.5" fill="#111" stroke="#111" stroke-width="0.2" textLength="11.40" lengthAdjust="spacingAndGlyphs">−</text>
<text x="37.10" y="0.00" font-family="Liberation Serif, serif" font-size="15.5" fill="#111" stroke="#111" stroke-width="0.2" font-weight="bold">u</text>
<text x="46.20" y="2.20" font-family="Liberation Serif, serif" font-size="10.9" fill="#111" stroke="#111" stroke-width="0.3" font-weight="bold">S</text>
<text x="52.82" y="0.00" font-family="Liberation Serif, serif" font-size="16.8" fill="#222" stroke="#222" stroke-width="0">|</text><text x="54.77" y="0.00" font-family="Liberation Serif, serif" font-size="16.8" fill="#222" stroke="#222" stroke-width="0">|</text><text x="56.72" y="0.00" font-family="Liberation Serif, serif" font-size="16.8" fill="#222" stroke="#222" stroke-width="0">|</text>
<text x="64.99" y="2.53" font-family="Liberation Serif, serif" font-size="20.22" fill="#111" stroke="#111" stroke-width="0.2">+</text>
<text x="81.52" y="0.00" font-family="Liberation Serif, serif" font-size="16.8" fill="#222" stroke="#222" stroke-width="0">|</text><text x="84.82" y="0.00" font-family="Liberation Serif, serif" font-size="16.8" fill="#222" stroke="#222" stroke-width="0">|</text>
<text x="89.40" y="0.00" font-family="Liberation Serif, serif" font-size="15.5" fill="#111" stroke="#111" stroke-width="0.2" font-style="italic">p</text>
<text x="99.89" y="1.92" font-family="Liberation Serif, serif" font-size="15.5" fill="#111" stroke="#111" stroke-width="0.2" textLength="11.40" lengthAdjust="spacingAndGlyphs">−</text>
<text x="116.20" y="0.00" font-family="Liberation Serif, serif" font-size="15.5" fill="#111" stroke="#111" stroke-width="0.2" font-style="italic">p</text>
<text x="123.90" y="2.20" font-family="Liberation Serif, serif" font-size="10.9" fill="#111" stroke="#111" stroke-width="0.3" font-style="italic" textLength="10.60" lengthAdjust="spacingAndGlyphs">M</text>
<text x="136.22" y="0.00" font-family="Liberation Serif, serif" font-size="16.8" fill="#222" stroke="#222" stroke-width="0">|</text><text x="139.52" y="0.00" font-family="Liberation Serif, serif" font-size="16.8" fill="#222" stroke="#222" stroke-width="0">|</text>
</g>
<g transform="translate(679.7,194) rotate(-90)">
<text x="0.12" y="0.00" font-family="Liberation Serif, serif" font-size="16.8" fill="#222" stroke="#222" stroke-width="0">|</text><text x="3.42" y="0.00" font-family="Liberation Serif, serif" font-size="16.8" fill="#222" stroke="#222" stroke-width="0">|</text>
<text x="7.20" y="0.00" font-family="Liberation Serif, serif" font-size="15.5" fill="#111" stroke="#111" stroke-width="0.2" textLength="18.80" lengthAdjust="spacingAndGlyphs">div</text>
<text x="31.50" y="0.00" font-family="Liberation Serif, serif" font-size="15.5" fill="#111" stroke="#111" stroke-width="0.2" font-weight="bold">u</text>
<text x="40.70" y="2.20" font-family="Liberation Serif, serif" font-size="10.9" fill="#111" stroke="#111" stroke-width="0.3" font-weight="bold">S</text>
<text x="48.52" y="0.00" font-family="Liberation Serif, serif" font-size="16.8" fill="#222" stroke="#222" stroke-width="0">|</text><text x="51.82" y="0.00" font-family="Liberation Serif, serif" font-size="16.8" fill="#222" stroke="#222" stroke-width="0">|</text>
</g>
<rect x="31.7" y="0.3" width="568.7" height="25.0" fill="#fff" stroke="#000" stroke-width="1"/>
<rect x="0.7" y="28.9" width="683.7" height="21.2" fill="#fff" stroke="#000" stroke-width="1"/>
<line x1="36.9" y1="13.2" x2="64.3" y2="13.2" stroke="#111" stroke-width="0.9"/>
<text x="67.70" y="17.70" font-family="Liberation Serif, serif" font-size="14.2" fill="#111" stroke="#111" stroke-width="0.2" textLength="11.00" lengthAdjust="spacingAndGlyphs">Θ</text>
<text x="78.40" y="17.70" font-family="Liberation Serif, serif" font-size="14.2" fill="#111" stroke="#111" stroke-width="0.2">(</text>
<text x="83.30" y="17.70" font-family="Liberation Serif, serif" font-size="14.2" fill="#111" stroke="#111" stroke-width="0.2" font-weight="bold" textLength="7.30" lengthAdjust="spacingAndGlyphs">z</text>
<text x="90.60" y="19.90" font-family="Liberation Serif, serif" font-size="9.9" fill="#111" stroke="#111" stroke-width="0.3" font-style="italic" textLength="5.00" lengthAdjust="spacingAndGlyphs">ε</text>
<text x="97.50" y="17.70" font-family="Liberation Serif, serif" font-size="14.2" fill="#111" stroke="#111" stroke-width="0.2">)</text>
<text x="105.80" y="18.19" font-family="Liberation Serif, serif" font-size="14.2" fill="#111" stroke="#111" stroke-width="0.2" textLength="11.28" lengthAdjust="spacingAndGlyphs">=</text>
<text x="120.50" y="17.70" font-family="Liberation Serif, serif" font-size="14.2" fill="#111" stroke="#111" stroke-width="0.2">2</text>
<text x="130.50" y="19.67" font-family="Liberation Serif, serif" font-size="17.69" fill="#111" stroke="#111" stroke-width="0.2">×</text>
<text x="143.80" y="17.70" font-family="Liberation Serif, serif" font-size="14.2" fill="#111" stroke="#111" stroke-width="0.2">10</text>
<text x="157.12" y="12.92" font-family="Liberation Serif, serif" font-size="9.9" fill="#111" stroke="#111" stroke-width="0.3" textLength="7.64" lengthAdjust="spacingAndGlyphs">−</text>
<text x="165.90" y="11.90" font-family="Liberation Serif, serif" font-size="9.9" fill="#111" stroke="#111" stroke-width="0.3">2</text>
<line x1="176.4" y1="13.2" x2="203.8" y2="13.2" stroke="#111" stroke-width="0.9" stroke-dasharray="4.8 3.1 0.7 3.1"/>
<text x="207.40" y="17.70" font-family="Liberation Serif, serif" font-size="14.2" fill="#111" stroke="#111" stroke-width="0.2" textLength="11.00" lengthAdjust="spacingAndGlyphs">Θ</text>
<text x="218.10" y="17.70" font-family="Liberation Serif, serif" font-size="14.2" fill="#111" stroke="#111" stroke-width="0.2">(</text>
<text x="223.00" y="17.70" font-family="Liberation Serif, serif" font-size="14.2" fill="#111" stroke="#111" stroke-width="0.2" font-weight="bold" textLength="7.30" lengthAdjust="spacingAndGlyphs">z</text>
<text x="230.30" y="19.90" font-family="Liberation Serif, serif" font-size="9.9" fill="#111" stroke="#111" stroke-width="0.3" font-style="italic" textLength="5.00" lengthAdjust="spacingAndGlyphs">ε</text>
<text x="237.20" y="17.70" font-family="Liberation Serif, serif" font-size="14.2" fill="#111" stroke="#111" stroke-width="0.2">)</text>
<text x="245.50" y="18.19" font-family="Liberation Serif, serif" font-size="14.2" fill="#111" stroke="#111" stroke-width="0.2" textLength="11.28" lengthAdjust="spacingAndGlyphs">=</text>
<text x="260.20" y="17.70" font-family="Liberation Serif, serif" font-size="14.2" fill="#111" stroke="#111" stroke-width="0.2">2</text>
<text x="270.20" y="19.67" font-family="Liberation Serif, serif" font-size="17.69" fill="#111" stroke="#111" stroke-width="0.2">×</text>
<text x="283.50" y="17.70" font-family="Liberation Serif, serif" font-size="14.2" fill="#111" stroke="#111" stroke-width="0.2">10</text>
<text x="296.82" y="12.92" font-family="Liberation Serif, serif" font-size="9.9" fill="#111" stroke="#111" stroke-width="0.3" textLength="7.64" lengthAdjust="spacingAndGlyphs">−</text>
<text x="305.60" y="11.90" font-family="Liberation Serif, serif" font-size="9.9" fill="#111" stroke="#111" stroke-width="0.3">4</text>
<line x1="316.3" y1="13.2" x2="343.7" y2="13.2" stroke="#111" stroke-width="0.9" stroke-dasharray="4.85 4.85"/>
<text x="346.90" y="17.70" font-family="Liberation Serif, serif" font-size="14.2" fill="#111" stroke="#111" stroke-width="0.2" textLength="11.00" lengthAdjust="spacingAndGlyphs">Θ</text>
<text x="357.60" y="17.70" font-family="Liberation Serif, serif" font-size="14.2" fill="#111" stroke="#111" stroke-width="0.2">(</text>
<text x="362.50" y="17.70" font-family="Liberation Serif, serif" font-size="14.2" fill="#111" stroke="#111" stroke-width="0.2" font-weight="bold" textLength="7.30" lengthAdjust="spacingAndGlyphs">z</text>
<text x="369.80" y="19.90" font-family="Liberation Serif, serif" font-size="9.9" fill="#111" stroke="#111" stroke-width="0.3" font-style="italic" textLength="5.00" lengthAdjust="spacingAndGlyphs">ε</text>
<text x="376.70" y="17.70" font-family="Liberation Serif, serif" font-size="14.2" fill="#111" stroke="#111" stroke-width="0.2">)</text>
<text x="385.00" y="18.19" font-family="Liberation Serif, serif" font-size="14.2" fill="#111" stroke="#111" stroke-width="0.2" textLength="11.28" lengthAdjust="spacingAndGlyphs">=</text>
<text x="399.70" y="17.70" font-family="Liberation Serif, serif" font-size="14.2" fill="#111" stroke="#111" stroke-width="0.2">2</text>
<text x="409.70" y="19.67" font-family="Liberation Serif, serif" font-size="17.69" fill="#111" stroke="#111" stroke-width="0.2">×</text>
<text x="423.00" y="17.70" font-family="Liberation Serif, serif" font-size="14.2" fill="#111" stroke="#111" stroke-width="0.2">10</text>
<text x="436.32" y="12.92" font-family="Liberation Serif, serif" font-size="9.9" fill="#111" stroke="#111" stroke-width="0.3" textLength="7.64" lengthAdjust="spacingAndGlyphs">−</text>
<text x="445.10" y="11.90" font-family="Liberation Serif, serif" font-size="9.9" fill="#111" stroke="#111" stroke-width="0.3">6</text>
<line x1="456.0" y1="13.2" x2="483.4" y2="13.2" stroke="#111" stroke-width="0.9" stroke-dasharray="0.8 3.06"/>
<text x="486.60" y="17.70" font-family="Liberation Serif, serif" font-size="14.2" fill="#111" stroke="#111" stroke-width="0.2" textLength="11.00" lengthAdjust="spacingAndGlyphs">Θ</text>
<text x="497.30" y="17.70" font-family="Liberation Serif, serif" font-size="14.2" fill="#111" stroke="#111" stroke-width="0.2">(</text>
<text x="502.20" y="17.70" font-family="Liberation Serif, serif" font-size="14.2" fill="#111" stroke="#111" stroke-width="0.2" font-weight="bold" textLength="7.30" lengthAdjust="spacingAndGlyphs">z</text>
<text x="509.50" y="19.90" font-family="Liberation Serif, serif" font-size="9.9" fill="#111" stroke="#111" stroke-width="0.3" font-style="italic" textLength="5.00" lengthAdjust="spacingAndGlyphs">ε</text>
<text x="516.40" y="17.70" font-family="Liberation Serif, serif" font-size="14.2" fill="#111" stroke="#111" stroke-width="0.2">)</text>
<text x="524.70" y="18.19" font-family="Liberation Serif, serif" font-size="14.2" fill="#111" stroke="#111" stroke-width="0.2" textLength="11.28" lengthAdjust="spacingAndGlyphs">=</text>
<text x="539.40" y="17.70" font-family="Liberation Serif, serif" font-size="14.2" fill="#111" stroke="#111" stroke-width="0.2">2</text>
<text x="549.40" y="19.67" font-family="Liberation Serif, serif" font-size="17.69" fill="#111" stroke="#111" stroke-width="0.2">×</text>
<text x="562.70" y="17.70" font-family="Liberation Serif, serif" font-size="14.2" fill="#111" stroke="#111" stroke-width="0.2">10</text>
<text x="576.02" y="12.92" font-family="Liberation Serif, serif" font-size="9.9" fill="#111" stroke="#111" stroke-width="0.3" textLength="7.64" lengthAdjust="spacingAndGlyphs">−</text>
<text x="584.80" y="11.90" font-family="Liberation Serif, serif" font-size="9.9" fill="#111" stroke="#111" stroke-width="0.3">8</text>
<circle cx="9.8" cy="39.4" r="5.6" fill="#4a86a2"/>
<text x="17.60" y="42.20" font-family="Liberation Serif, serif" font-size="10.15" fill="#111" stroke="#111" stroke-width="0.3" font-style="italic" textLength="5.60" lengthAdjust="spacingAndGlyphs">k</text><text x="27.16" y="42.76" font-family="Liberation Serif, serif" font-size="10.15" fill="#111" stroke="#111" stroke-width="0.3" textLength="9.46" lengthAdjust="spacingAndGlyphs">=</text><text x="40.40" y="42.20" font-family="Liberation Serif, serif" font-size="10.15" fill="#111" stroke="#111" stroke-width="0.3">4</text><text x="46.40" y="42.20" font-family="Liberation Serif, serif" font-size="11.15" fill="#111" stroke="#111" stroke-width="0.2">,</text><text x="51.50" y="42.20" font-family="Liberation Serif, serif" font-size="10.15" fill="#111" stroke="#111" stroke-width="0.3" font-style="italic">C</text><text x="58.10" y="43.90" font-family="Liberation Serif, serif" font-size="7.3" fill="#111" stroke="#111" stroke-width="0.15" font-style="italic" textLength="6.20" lengthAdjust="spacingAndGlyphs">T</text><text x="68.30" y="42.20" font-family="Liberation Serif, serif" font-size="10.15" fill="#111" stroke="#111" stroke-width="0.3">(</text><text x="72.50" y="42.20" font-family="Liberation Serif, serif" font-size="10.15" fill="#111" stroke="#111" stroke-width="0.3" font-style="italic" textLength="5.80" lengthAdjust="spacingAndGlyphs">η</text><text x="79.10" y="42.20" font-family="Liberation Serif, serif" font-size="10.15" fill="#111" stroke="#111" stroke-width="0.3">)</text><text x="87.26" y="42.76" font-family="Liberation Serif, serif" font-size="10.15" fill="#111" stroke="#111" stroke-width="0.3" textLength="9.46" lengthAdjust="spacingAndGlyphs">=</text><text x="99.90" y="42.00" font-family="Liberation Serif, serif" font-size="11.6" fill="#111" stroke="#111" stroke-width="0.2">{</text><text x="106.30" y="42.20" font-family="Liberation Serif, serif" font-size="10.15" fill="#111" stroke="#111" stroke-width="0.3" font-weight="bold" textLength="5.30" lengthAdjust="spacingAndGlyphs">z</text><text x="112.50" y="43.90" font-family="Liberation Serif, serif" font-size="7.3" fill="#111" stroke="#111" stroke-width="0.15" font-style="italic">ε</text><text x="117.20" y="42.00" font-family="Liberation Serif, serif" font-size="11.6" fill="#111" stroke="#111" stroke-width="0.2">}</text>
<polygon points="131.40,33.80 137.20,38.01 134.99,44.84 127.81,44.84 125.60,38.01" fill="#007d00"/>
<text x="139.70" y="42.20" font-family="Liberation Serif, serif" font-size="10.15" fill="#111" stroke="#111" stroke-width="0.3" font-style="italic" textLength="5.60" lengthAdjust="spacingAndGlyphs">k</text><text x="149.26" y="42.76" font-family="Liberation Serif, serif" font-size="10.15" fill="#111" stroke="#111" stroke-width="0.3" textLength="9.46" lengthAdjust="spacingAndGlyphs">=</text><text x="162.50" y="42.20" font-family="Liberation Serif, serif" font-size="10.15" fill="#111" stroke="#111" stroke-width="0.3">5</text><text x="168.50" y="42.20" font-family="Liberation Serif, serif" font-size="11.15" fill="#111" stroke="#111" stroke-width="0.2">,</text><text x="173.60" y="42.20" font-family="Liberation Serif, serif" font-size="10.15" fill="#111" stroke="#111" stroke-width="0.3" font-style="italic">C</text><text x="180.20" y="43.90" font-family="Liberation Serif, serif" font-size="7.3" fill="#111" stroke="#111" stroke-width="0.15" font-style="italic" textLength="6.20" lengthAdjust="spacingAndGlyphs">T</text><text x="190.40" y="42.20" font-family="Liberation Serif, serif" font-size="10.15" fill="#111" stroke="#111" stroke-width="0.3">(</text><text x="194.60" y="42.20" font-family="Liberation Serif, serif" font-size="10.15" fill="#111" stroke="#111" stroke-width="0.3" font-style="italic" textLength="5.80" lengthAdjust="spacingAndGlyphs">η</text><text x="201.20" y="42.20" font-family="Liberation Serif, serif" font-size="10.15" fill="#111" stroke="#111" stroke-width="0.3">)</text><text x="209.36" y="42.76" font-family="Liberation Serif, serif" font-size="10.15" fill="#111" stroke="#111" stroke-width="0.3" textLength="9.46" lengthAdjust="spacingAndGlyphs">=</text><text x="222.00" y="42.00" font-family="Liberation Serif, serif" font-size="11.6" fill="#111" stroke="#111" stroke-width="0.2">{</text><text x="228.40" y="42.20" font-family="Liberation Serif, serif" font-size="10.15" fill="#111" stroke="#111" stroke-width="0.3" font-weight="bold" textLength="5.30" lengthAdjust="spacingAndGlyphs">z</text><text x="234.60" y="43.90" font-family="Liberation Serif, serif" font-size="7.3" fill="#111" stroke="#111" stroke-width="0.15" font-style="italic">ε</text><text x="239.30" y="42.00" font-family="Liberation Serif, serif" font-size="11.6" fill="#111" stroke="#111" stroke-width="0.2">}</text>
<polygon points="251.9,33.4 256.6,39.5 251.9,45.6 247.2,39.5" fill="#ee1010"/>
<text x="258.90" y="42.20" font-family="Liberation Serif, serif" font-size="10.15" fill="#111" stroke="#111" stroke-width="0.3" font-style="italic" textLength="5.60" lengthAdjust="spacingAndGlyphs">k</text><text x="268.46" y="42.76" font-family="Liberation Serif, serif" font-size="10.15" fill="#111" stroke="#111" stroke-width="0.3" textLength="9.46" lengthAdjust="spacingAndGlyphs">=</text><text x="281.70" y="42.20" font-family="Liberation Serif, serif" font-size="10.15" fill="#111" stroke="#111" stroke-width="0.3">6</text><text x="287.70" y="42.20" font-family="Liberation Serif, serif" font-size="11.15" fill="#111" stroke="#111" stroke-width="0.2">,</text><text x="292.80" y="42.20" font-family="Liberation Serif, serif" font-size="10.15" fill="#111" stroke="#111" stroke-width="0.3" font-style="italic">C</text><text x="299.40" y="43.90" font-family="Liberation Serif, serif" font-size="7.3" fill="#111" stroke="#111" stroke-width="0.15" font-style="italic" textLength="6.20" lengthAdjust="spacingAndGlyphs">T</text><text x="309.60" y="42.20" font-family="Liberation Serif, serif" font-size="10.15" fill="#111" stroke="#111" stroke-width="0.3">(</text><text x="313.80" y="42.20" font-family="Liberation Serif, serif" font-size="10.15" fill="#111" stroke="#111" stroke-width="0.3" font-style="italic" textLength="5.80" lengthAdjust="spacingAndGlyphs">η</text><text x="320.40" y="42.20" font-family="Liberation Serif, serif" font-size="10.15" fill="#111" stroke="#111" stroke-width="0.3">)</text><text x="328.56" y="42.76" font-family="Liberation Serif, serif" font-size="10.15" fill="#111" stroke="#111" stroke-width="0.3" textLength="9.46" lengthAdjust="spacingAndGlyphs">=</text><text x="341.20" y="42.00" font-family="Liberation Serif, serif" font-size="11.6" fill="#111" stroke="#111" stroke-width="0.2">{</text><text x="347.60" y="42.20" font-family="Liberation Serif, serif" font-size="10.15" fill="#111" stroke="#111" stroke-width="0.3" font-weight="bold" textLength="5.30" lengthAdjust="spacingAndGlyphs">z</text><text x="353.80" y="43.90" font-family="Liberation Serif, serif" font-size="7.3" fill="#111" stroke="#111" stroke-width="0.15" font-style="italic">ε</text><text x="358.50" y="42.00" font-family="Liberation Serif, serif" font-size="11.6" fill="#111" stroke="#111" stroke-width="0.2">}</text>
<circle cx="373.1" cy="39.5" r="4.8" fill="#fff" stroke="#1212c8" stroke-width="2.0"/><path d="M368.30,39.50 A4.8,4.8 0 0 1 377.90,39.50 Z" fill="#1212c8"/>
<text x="381.10" y="42.20" font-family="Liberation Serif, serif" font-size="10.15" fill="#111" stroke="#111" stroke-width="0.3" font-style="italic" textLength="5.60" lengthAdjust="spacingAndGlyphs">k</text><text x="390.66" y="42.76" font-family="Liberation Serif, serif" font-size="10.15" fill="#111" stroke="#111" stroke-width="0.3" textLength="9.46" lengthAdjust="spacingAndGlyphs">=</text><text x="403.90" y="42.20" font-family="Liberation Serif, serif" font-size="10.15" fill="#111" stroke="#111" stroke-width="0.3">4</text><text x="409.90" y="42.20" font-family="Liberation Serif, serif" font-size="11.15" fill="#111" stroke="#111" stroke-width="0.2">,</text><text x="415.00" y="42.20" font-family="Liberation Serif, serif" font-size="10.15" fill="#111" stroke="#111" stroke-width="0.3" font-style="italic">C</text><text x="421.60" y="43.90" font-family="Liberation Serif, serif" font-size="7.3" fill="#111" stroke="#111" stroke-width="0.15" font-style="italic" textLength="6.20" lengthAdjust="spacingAndGlyphs">T</text><text x="431.80" y="42.20" font-family="Liberation Serif, serif" font-size="10.15" fill="#111" stroke="#111" stroke-width="0.3">(</text><text x="436.00" y="42.20" font-family="Liberation Serif, serif" font-size="10.15" fill="#111" stroke="#111" stroke-width="0.3" font-style="italic" textLength="5.80" lengthAdjust="spacingAndGlyphs">η</text><text x="442.60" y="42.20" font-family="Liberation Serif, serif" font-size="10.15" fill="#111" stroke="#111" stroke-width="0.3">)</text><text x="450.76" y="42.76" font-family="Liberation Serif, serif" font-size="10.15" fill="#111" stroke="#111" stroke-width="0.3" textLength="9.46" lengthAdjust="spacingAndGlyphs">=</text><text x="464.00" y="42.40" font-family="DejaVu Sans, sans-serif" font-size="9.2" fill="#111" stroke="#111" stroke-width="0.3" textLength="5.60" lengthAdjust="spacingAndGlyphs">∅</text>
<rect x="471.4" y="33.9" width="11.3" height="11.3" fill="#00aa00"/>
<text x="484.60" y="42.20" font-family="Liberation Serif, serif" font-size="10.15" fill="#111" stroke="#111" stroke-width="0.3" font-style="italic" textLength="5.60" lengthAdjust="spacingAndGlyphs">k</text><text x="494.16" y="42.76" font-family="Liberation Serif, serif" font-size="10.15" fill="#111" stroke="#111" stroke-width="0.3" textLength="9.46" lengthAdjust="spacingAndGlyphs">=</text><text x="507.40" y="42.20" font-family="Liberation Serif, serif" font-size="10.15" fill="#111" stroke="#111" stroke-width="0.3">5</text><text x="513.40" y="42.20" font-family="Liberation Serif, serif" font-size="11.15" fill="#111" stroke="#111" stroke-width="0.2">,</text><text x="518.50" y="42.20" font-family="Liberation Serif, serif" font-size="10.15" fill="#111" stroke="#111" stroke-width="0.3" font-style="italic">C</text><text x="525.10" y="43.90" font-family="Liberation Serif, serif" font-size="7.3" fill="#111" stroke="#111" stroke-width="0.15" font-style="italic" textLength="6.20" lengthAdjust="spacingAndGlyphs">T</text><text x="535.30" y="42.20" font-family="Liberation Serif, serif" font-size="10.15" fill="#111" stroke="#111" stroke-width="0.3">(</text><text x="539.50" y="42.20" font-family="Liberation Serif, serif" font-size="10.15" fill="#111" stroke="#111" stroke-width="0.3" font-style="italic" textLength="5.80" lengthAdjust="spacingAndGlyphs">η</text><text x="546.10" y="42.20" font-family="Liberation Serif, serif" font-size="10.15" fill="#111" stroke="#111" stroke-width="0.3">)</text><text x="554.26" y="42.76" font-family="Liberation Serif, serif" font-size="10.15" fill="#111" stroke="#111" stroke-width="0.3" textLength="9.46" lengthAdjust="spacingAndGlyphs">=</text><text x="567.50" y="42.40" font-family="DejaVu Sans, sans-serif" font-size="9.2" fill="#111" stroke="#111" stroke-width="0.3" textLength="5.60" lengthAdjust="spacingAndGlyphs">∅</text>
<polygon points="580.8,35.0 585.3,39.5 580.8,44.0 576.3,39.5" fill="#fff" stroke="#e87a00" stroke-width="2.5"/><polygon points="585.3,39.5 580.8,44.0 576.3,39.5" fill="#e87a00"/>
<text x="588.30" y="42.20" font-family="Liberation Serif, serif" font-size="10.15" fill="#111" stroke="#111" stroke-width="0.3" font-style="italic" textLength="5.60" lengthAdjust="spacingAndGlyphs">k</text><text x="597.86" y="42.76" font-family="Liberation Serif, serif" font-size="10.15" fill="#111" stroke="#111" stroke-width="0.3" textLength="9.46" lengthAdjust="spacingAndGlyphs">=</text><text x="611.10" y="42.20" font-family="Liberation Serif, serif" font-size="10.15" fill="#111" stroke="#111" stroke-width="0.3">6</text><text x="617.10" y="42.20" font-family="Liberation Serif, serif" font-size="11.15" fill="#111" stroke="#111" stroke-width="0.2">,</text><text x="622.20" y="42.20" font-family="Liberation Serif, serif" font-size="10.15" fill="#111" stroke="#111" stroke-width="0.3" font-style="italic">C</text><text x="628.80" y="43.90" font-family="Liberation Serif, serif" font-size="7.3" fill="#111" stroke="#111" stroke-width="0.15" font-style="italic" textLength="6.20" lengthAdjust="spacingAndGlyphs">T</text><text x="639.00" y="42.20" font-family="Liberation Serif, serif" font-size="10.15" fill="#111" stroke="#111" stroke-width="0.3">(</text><text x="643.20" y="42.20" font-family="Liberation Serif, serif" font-size="10.15" fill="#111" stroke="#111" stroke-width="0.3" font-style="italic" textLength="5.80" lengthAdjust="spacingAndGlyphs">η</text><text x="649.80" y="42.20" font-family="Liberation Serif, serif" font-size="10.15" fill="#111" stroke="#111" stroke-width="0.3">)</text><text x="657.96" y="42.76" font-family="Liberation Serif, serif" font-size="10.15" fill="#111" stroke="#111" stroke-width="0.3" textLength="9.46" lengthAdjust="spacingAndGlyphs">=</text><text x="671.20" y="42.40" font-family="DejaVu Sans, sans-serif" font-size="9.2" fill="#111" stroke="#111" stroke-width="0.3" textLength="5.60" lengthAdjust="spacingAndGlyphs">∅</text>
</svg>
</body></html>
